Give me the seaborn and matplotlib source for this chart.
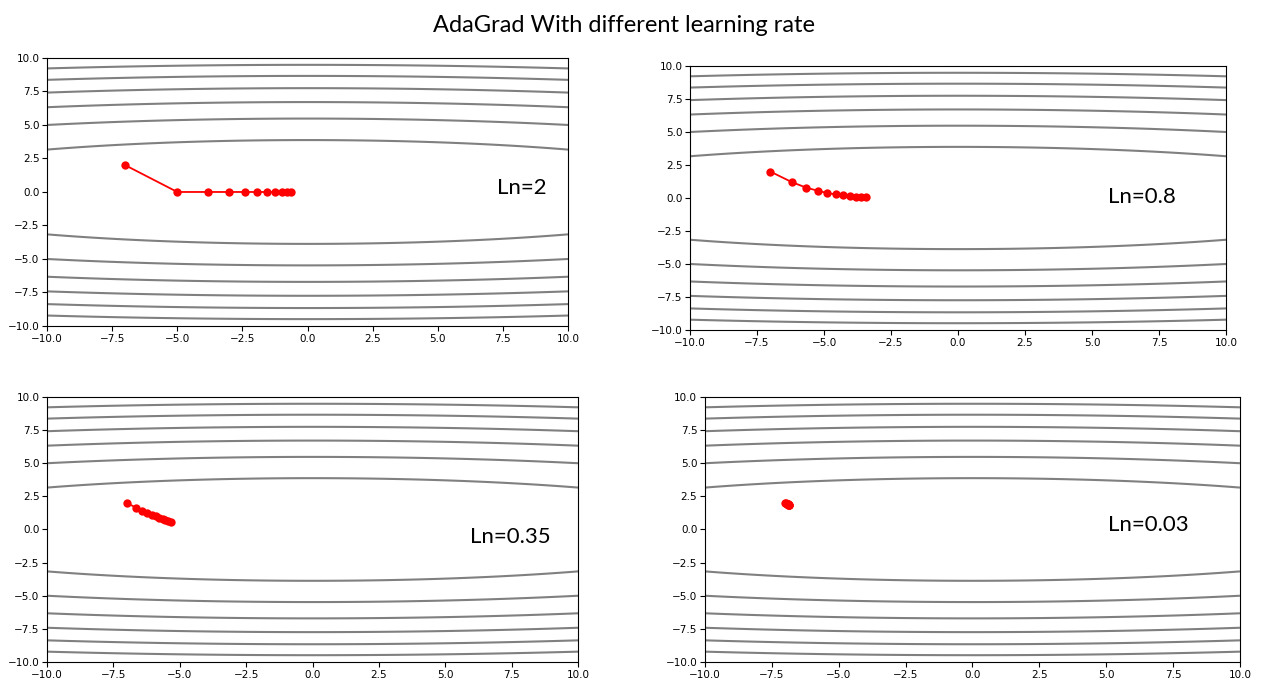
import numpy as np
import matplotlib
matplotlib.use("Agg")
import matplotlib.pyplot as plt
import seaborn as sns

sns.set_theme(style="ticks")
plt.rcParams['font.family'] = ['DejaVu Sans']
plt.rcParams['text.color'] = 'black'
plt.rcParams['xtick.color'] = 'black'
plt.rcParams['ytick.color'] = 'black'
plt.rcParams['axes.edgecolor'] = 'black'

# surface f(x, y) = x^2/20 + y^2, contour levels as seen in the picture
coef_x = 1 / 20
coef_y = 1.0
levels = [15, 30, 45, 60, 75, 90]

# AdaGrad trajectories
lr_labels = ["Ln=2", "Ln=0.8", "Ln=0.35", "Ln=0.03"]

x_lr2 = [-7.0, -5.0, -3.84, -3.02, -2.41, -1.94, -1.55, -1.23, -0.97, -0.77, -0.62]
y_lr2 = [2.0, 0.0, 0.0, 0.0, 0.0, 0.0, 0.0, 0.0, 0.0, 0.0, 0.0]

x_lr08 = [-7.0, -6.2, -5.67, -5.24, -4.88, -4.56, -4.28, -4.03, -3.81, -3.61, -3.43]
y_lr08 = [2.0, 1.2, 0.79, 0.55, 0.38, 0.27, 0.19, 0.13, 0.09, 0.06, 0.04]

x_lr035 = [-7.0, -6.65, -6.41, -6.22, -6.05, -5.90, -5.77, -5.65, -5.54, -5.44, -5.35]
y_lr035 = [2.0, 1.65, 1.43, 1.26, 1.12, 1.00, 0.90, 0.81, 0.73, 0.66, 0.60]

x_lr003 = [-7.0, -6.97, -6.95, -6.93, -6.91, -6.90, -6.89, -6.88, -6.86, -6.85, -6.84]
y_lr003 = [2.0, 1.97, 1.95, 1.93, 1.91, 1.90, 1.89, 1.88, 1.86, 1.85, 1.84]

paths = [(x_lr2, y_lr2), (x_lr08, y_lr08), (x_lr035, y_lr035), (x_lr003, y_lr003)]
ticks = [-10.0, -7.5, -5.0, -2.5, 0.0, 2.5, 5.0, 7.5, 10.0]

fig = plt.figure(figsize=(12.75, 7), dpi=100)
boxes = [
    [0.0369, 0.5343, 0.4086, 0.3829],
    [0.5412, 0.5286, 0.4204, 0.3771],
    [0.0369, 0.0543, 0.4165, 0.3786],
    [0.5529, 0.0543, 0.4196, 0.3786],
]
label_pos = [(7.27, 0.3), (5.6, 0.08), (5.93, -0.57), (5.07, 0.34)]

gx = np.linspace(-10, 10, 400)
gy = np.linspace(-10, 10, 400)
X, Y = np.meshgrid(gx, gy)
Z = coef_x * X ** 2 + coef_y * Y ** 2

for box, (px, py), lab, pos in zip(boxes, paths, lr_labels, label_pos):
    ax = fig.add_axes(box)
    ax.contour(X, Y, Z, levels=levels, colors='gray', linewidths=1.5)
    sns.lineplot(x=px, y=py, ax=ax, color='red', marker='o', markersize=6,
                 markeredgewidth=0, linewidth=1.3, sort=False, estimator=None)
    ax.set_xlim(-10, 10)
    ax.set_ylim(-10, 10)
    ax.set_xticks(ticks)
    ax.set_yticks(ticks)
    ax.tick_params(labelsize=7.5, length=3.5, width=0.8, pad=2)
    for s in ax.spines.values():
        s.set_linewidth(0.8)
    ax.text(pos[0], pos[1], lab, fontsize=16, family=['Lato', 'DejaVu Sans'],
            va='center', ha='left', color='black')

fig.text(0.4898, 0.963, "AdaGrad With different learning rate", fontsize=17,
         family=['Lato', 'DejaVu Sans'], ha='center', va='center', color='black')

fig.savefig("out.png", dpi=100, facecolor='white')
